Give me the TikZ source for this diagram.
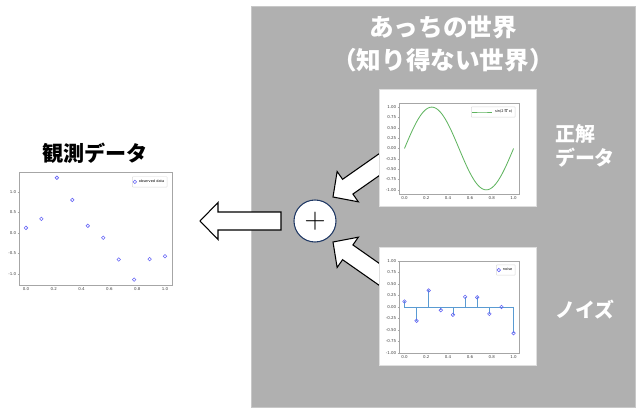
\documentclass[tikz,border=0pt]{standalone}
\usepackage{fontspec}
\usepackage{pgfplots}
\pgfplotsset{compat=1.17}
\newfontfamily\jpfont{Noto Sans CJK JP}
\newfontfamily\plotfont{DejaVu Sans}
\definecolor{worldgray}{HTML}{B0B0B0}
\definecolor{sumblue}{HTML}{1F3864}
\definecolor{sinegreen}{RGB}{95,180,95}
\definecolor{markblue}{RGB}{100,100,245}
\definecolor{stemblue}{RGB}{90,155,210}

\tikzset{
  arrowline/.style={draw=black, fill=white, line width=0.9pt, line join=miter},
  blockarrow/.pic={
    \draw[arrowline] (0,0) -- (18,18.5) -- (18,9) -- (#1,9) -- (#1,-9) -- (18,-9) -- (18,-18.5) -- cycle;
  },
  plotpanel/.style={fill=white, draw=gray!25, line width=0.4pt},
  worldtitle/.style={text=white, align=center, font=\jpfont\bfseries\fontsize{21}{28}\selectfont},
  sidelabel/.style={text=white, anchor=west, align=left, font=\jpfont\bfseries\fontsize{17}{21}\selectfont},
  obstitle/.style={text=black, font=\jpfont\bfseries\fontsize{18}{20}\selectfont},
  sumnode/.style={circle, draw=sumblue, line width=0.9pt, fill=white, minimum size=1.26cm, inner sep=0pt, font=\fontsize{26}{26}\selectfont}
}
\pgfplotsset{
  plotaxis/.style={
    scale only axis, anchor=south west,
    tick pos=left, tick align=outside, major tick length=1.2pt,
    axis line style={gray!70, line width=0.4pt},
    every tick/.style={gray!70, line width=0.3pt},
    tick label style={font=\plotfont\fontsize{3.4}{4}\selectfont, text=black!75, inner sep=1pt},
    xmin=-0.05, xmax=1.05, xtick={0,0.2,0.4,0.6,0.8,1},
    xticklabel style={/pgf/number format/.cd, fixed, fixed zerofill, precision=1, assume math mode=true},
    legend style={font=\plotfont\fontsize{3}{3.5}\selectfont, draw=gray!30, fill=white,
      at={(0.97,0.96)}, anchor=north east, inner sep=0.5pt, rounded corners=0.5pt},
    legend cell align=left
  },
  obsmark/.style={only marks, mark=o, mark size=1.5pt, draw=markblue, mark options={line width=0.5pt}}
}

\begin{document}
\begin{tikzpicture}[x=0.03cm, y=0.03cm]
\useasboundingbox (0,0) rectangle (640,412);

% the world we cannot see
\draw[worldgray!70!white, fill=worldgray] (251,5) rectangle (635,406);
\node[worldtitle] (world) at (443,368) {あっちの世界\\（知り得ない世界）};

% arrows into the sum
\pic[rotate=35] at (333,215) {blockarrow=80};
\pic[rotate=-35] at (333,170) {blockarrow=80};

% true function
\draw[plotpanel] (379,206) rectangle (536,323);
\begin{axis}[plotaxis, name=truthplot, at={(11.97cm,6.54cm)}, width=3.6cm, height=2.73cm,
  ymin=-1.1, ymax=1.1, ytick={-1,-0.75,-0.5,-0.25,0,0.25,0.5,0.75,1},
  yticklabel style={/pgf/number format/.cd, fixed, fixed zerofill, precision=2, assume math mode=true}]
\addplot[sinegreen, line width=0.7pt, domain=0:1, samples=100] {sin(deg(2*pi*x))};
\addlegendentry{sin(2$\pi$x)}
\end{axis}

% noise
\draw[plotpanel] (379,47) rectangle (536,165);
\begin{axis}[plotaxis, name=noiseplot, at={(11.97cm,1.77cm)}, width=3.6cm, height=2.76cm,
  ymin=-1, ymax=1, ytick={-1,-0.75,-0.5,-0.25,0,0.25,0.5,0.75,1},
  yticklabel style={/pgf/number format/.cd, fixed, fixed zerofill, precision=2, assume math mode=true}]
\addplot[ycomb, stemblue, line width=0.6pt, forget plot] coordinates {
  (0,0.12) (0.1111,-0.30) (0.2222,0.36) (0.3333,-0.07) (0.4444,-0.17)
  (0.5556,0.22) (0.6667,0.21) (0.7778,-0.15) (0.8889,0.00) (1,-0.57)};
\addplot[stemblue, line width=0.8pt, forget plot] coordinates {(0,0) (1,0)};
\addplot[obsmark] coordinates {
  (0,0.12) (0.1111,-0.30) (0.2222,0.36) (0.3333,-0.07) (0.4444,-0.17)
  (0.5556,0.22) (0.6667,0.21) (0.7778,-0.15) (0.8889,0.00) (1,-0.57)};
\addlegendentry{noise}
\end{axis}

% labels on the right
\node[sidelabel] (truthlabel) at (551,266) {正解\\データ};
\node[sidelabel] (noiselabel) at (551,102) {ノイズ};

% sum and output arrow
\node[sumnode] (sum) at (315,191) {$+$};
\pic at (200,191) {blockarrow=81};

% observed data
\node[obstitle] (obslabel) at (95,259) {観測データ};
\begin{axis}[plotaxis, name=obsplot, at={(0.57cm,3.81cm)}, width=4.59cm, height=3.39cm,
  ymin=-1.27, ymax=1.48, ytick={-1,-0.5,0,0.5,1},
  yticklabel style={/pgf/number format/.cd, fixed, fixed zerofill, precision=1, assume math mode=true}]
\addplot[obsmark] coordinates {
  (0,0.12) (0.1111,0.34) (0.2222,1.34) (0.3333,0.80) (0.4444,0.17)
  (0.5556,-0.12) (0.6667,-0.65) (0.7778,-1.14) (0.8889,-0.64) (1,-0.57)};
\addlegendentry{observed data}
\end{axis}
\end{tikzpicture}
\end{document}
